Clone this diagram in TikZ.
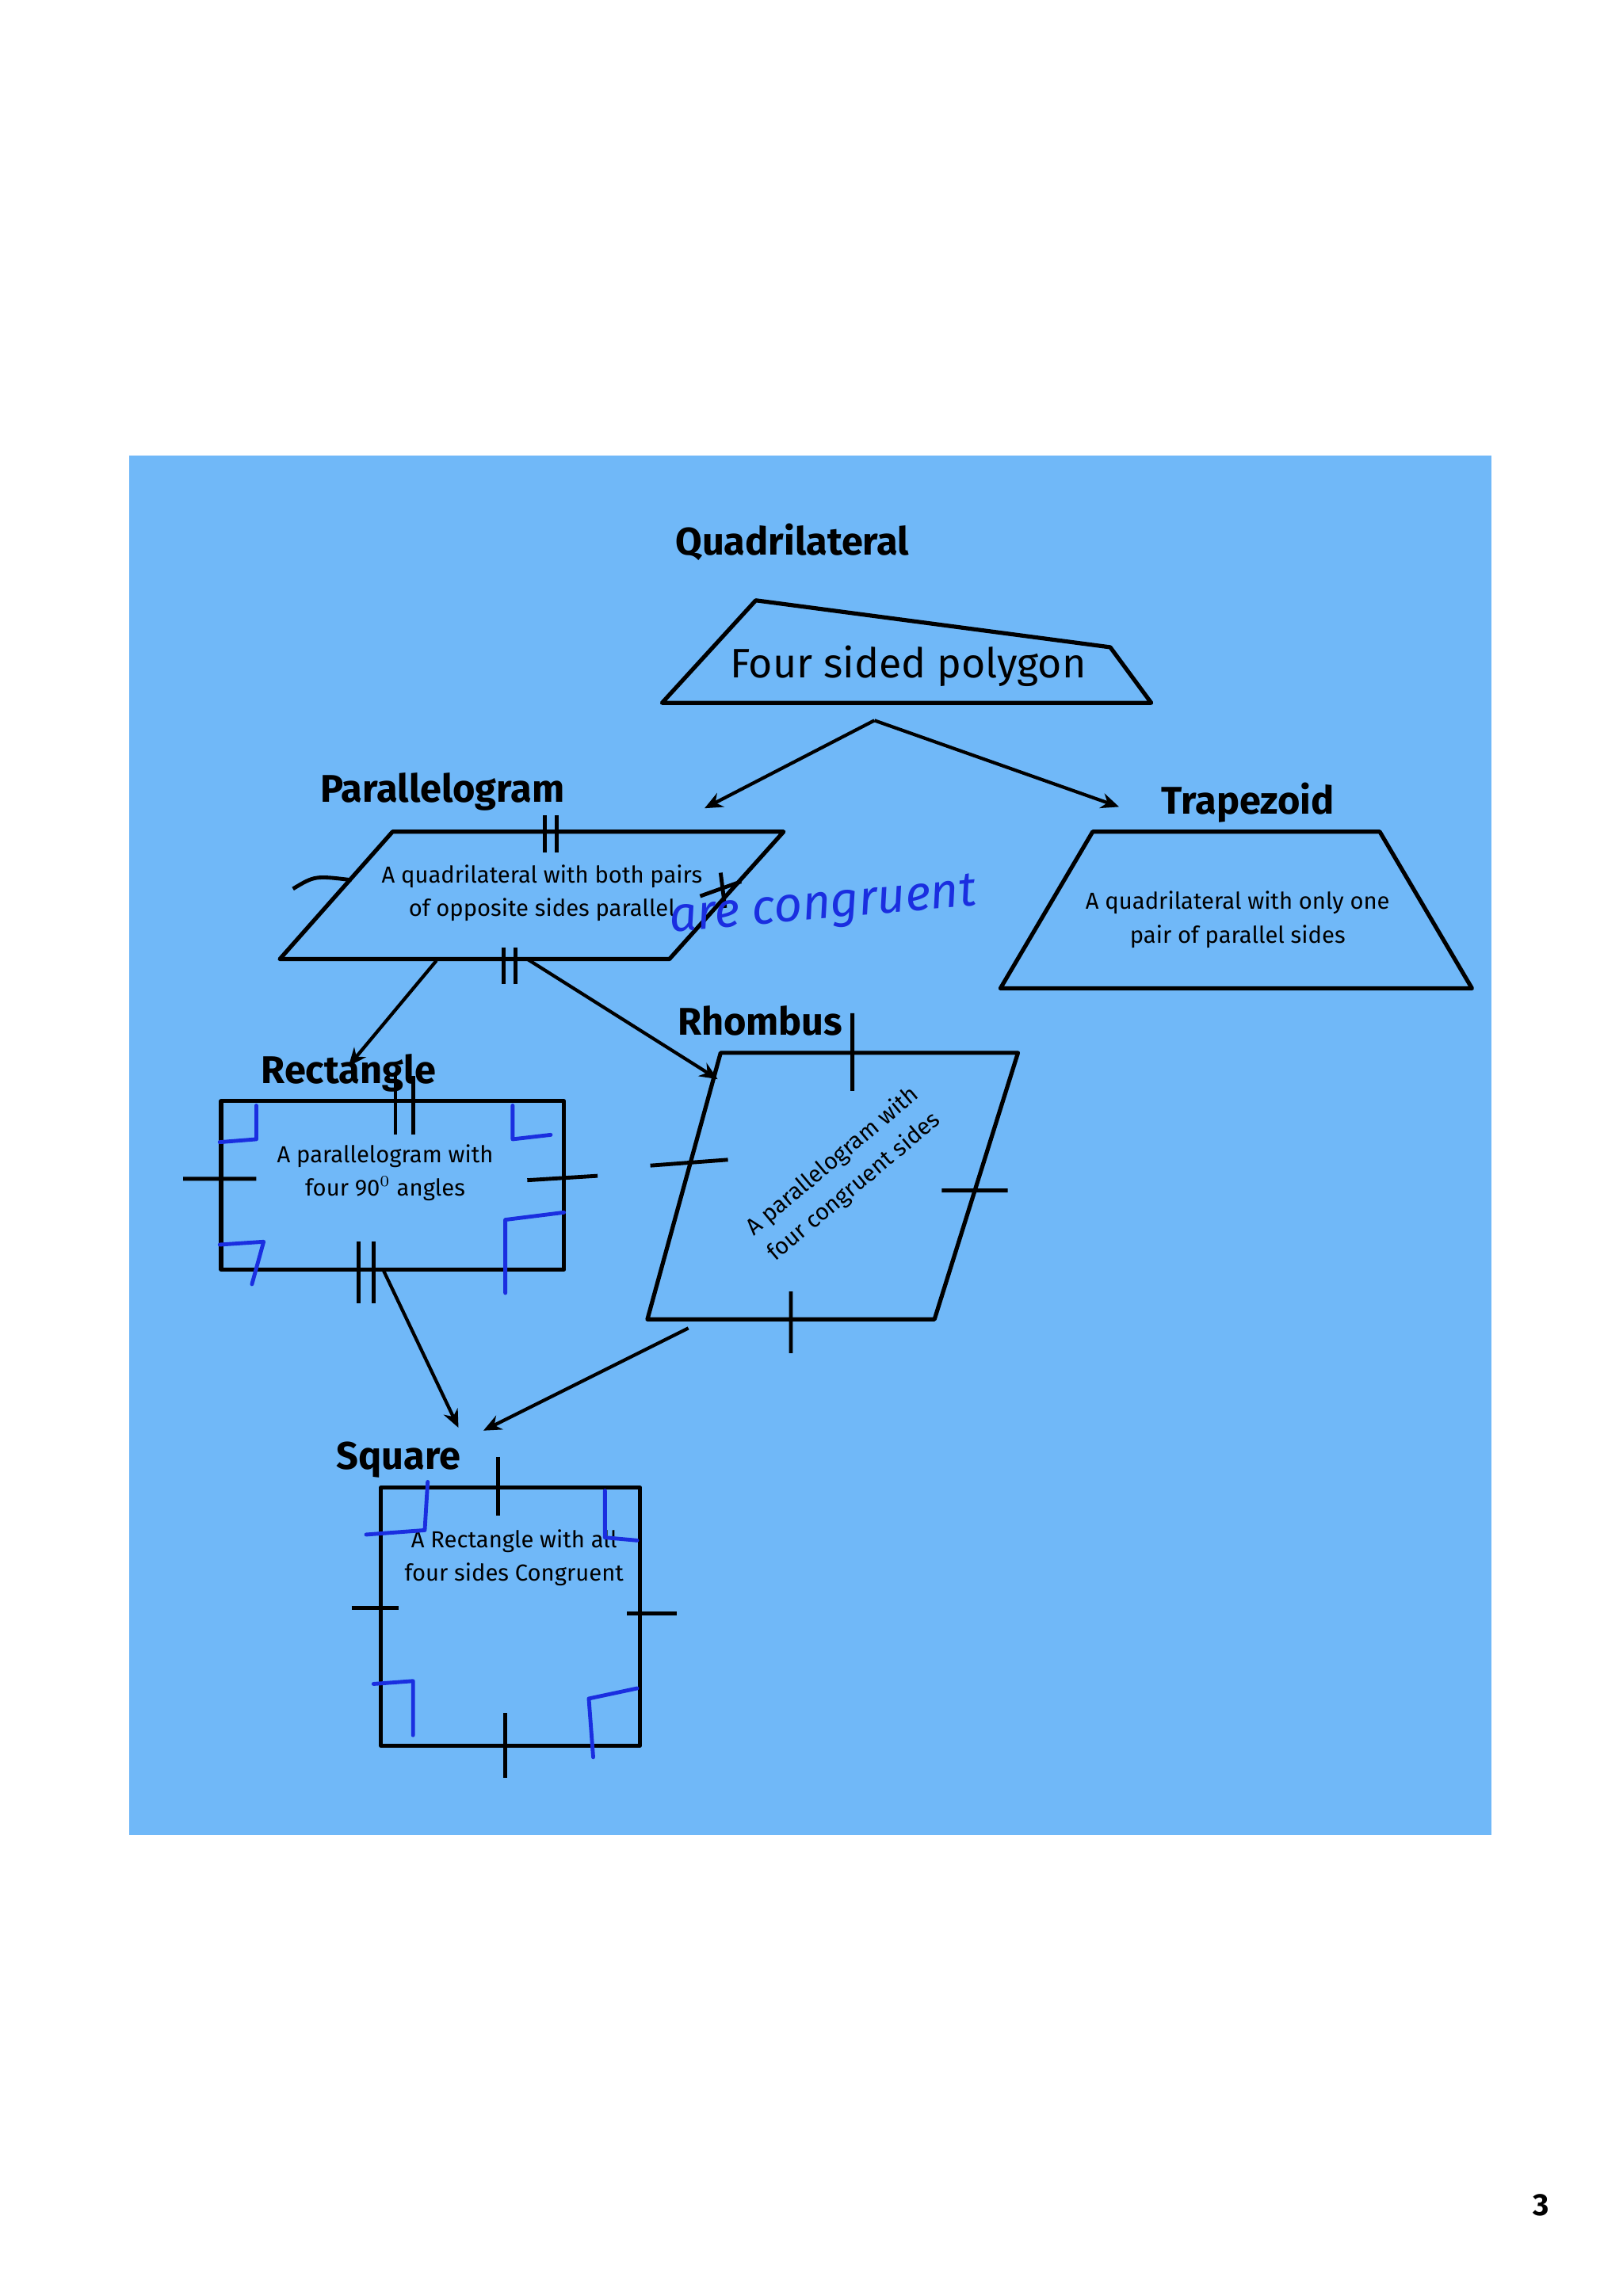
\documentclass[tikz,border=0pt]{standalone}
\usepackage{fontspec}
\setmainfont{Fira Sans}
\usetikzlibrary{arrows.meta}
\definecolor{bg}{HTML}{70B8F8}
\definecolor{pen}{HTML}{1A2EE0}
\begin{document}
\begin{tikzpicture}[x=0.02cm,y=-0.02cm,
  shp/.style={line width=1.6pt,line join=round},
  arr/.style={line width=1.3pt,-{Stealth[length=7pt,width=6pt]}},
  tick/.style={line width=1.5pt},
  bl/.style={pen,line width=1.5pt,line join=round,line cap=round},
  ttl/.style={font=\fontsize{15}{18}\selectfont\bfseries},
  txt/.style={font=\fontsize{9}{13}\selectfont,align=center}]
\useasboundingbox (0,0) rectangle (1108,1568);
\fill[white] (0,0) rectangle (1108,1568);
\fill[bg] (88,311) rectangle (1018,1253);
% Quadrilateral
\node[ttl] (tq) at (541,370) {Quadrilateral};
\draw[shp] (452,480) -- (516,410) -- (758,442) -- (786,480) -- cycle;
\node[font=\fontsize{16}{19}\selectfont] (q) at (620,455) {Four sided polygon};
\coordinate (qa) at (597,492);
\coordinate (pa) at (481,552);
\coordinate (ta) at (764,551);
\draw[arr] (qa) -- (pa);
\draw[arr] (qa) -- (ta);
% Parallelogram
\node[ttl] (tp) at (302,541) {Parallelogram};
\draw[shp] (191,655) -- (268,568) -- (535,568) -- (457,655) -- cycle;
\node[txt] (p) at (370,610) {A quadrilateral with both pairs\\of opposite sides parallel};
\draw[tick] (372,557) -- (372,582) (380,557) -- (380,582);
\draw[tick] (344,647) -- (344,672) (352,647) -- (352,672);
\draw[tick] (200,607) .. controls (215,598) .. (240,601);
\draw[tick] (478,612) -- (506,602) (492,596) -- (495,620);
\node[pen,font=\fontsize{19}{22}\selectfont\itshape,rotate=5] (ac) at (562,620) {are congruent};
% Trapezoid
\node[ttl] (tt) at (852,548) {Trapezoid};
\draw[shp] (683,675) -- (746,568) -- (942,568) -- (1005,675) -- cycle;
\node[txt] (t) at (845,628) {A quadrilateral with only one\\pair of parallel sides};
% arrows from parallelogram
\coordinate (p1) at (298,656); \coordinate (r1) at (238,728);
\coordinate (p2) at (360,655); \coordinate (h1) at (490,737);
\draw[arr] (p1) -- (r1);
\draw[arr] (p2) -- (h1);
% Rhombus
\node[ttl] (th) at (519,697) {Rhombus};
\draw[shp] (442,901) -- (492,719) -- (695,719) -- (638,901) -- cycle;
\node[txt,rotate=40] (h) at (576,802) {A parallelogram with\\four congruent sides};
\draw[tick] (582,692) -- (582,745) (444,796) -- (497,792) (643,813) -- (688,813) (540,882) -- (540,924);
% Rectangle
\node[ttl] (tr) at (238,733) {Rectangle};
\draw[shp] (151,752) rectangle (385,867);
\node[txt] (r) at (263,801) {A parallelogram with\\four 90$^0$ angles};
\draw[tick] (270,735) -- (270,775) (282,735) -- (282,775);
\draw[tick] (245,848) -- (245,890) (255,848) -- (255,890);
\draw[tick] (125,805) -- (175,805) (360,806) -- (408,803);
\draw[bl] (150,780) -- (175,778) -- (175,755);
\draw[bl] (350,755) -- (350,778) -- (376,775);
\draw[bl] (150,850) -- (180,848) -- (172,877);
\draw[bl] (345,883) -- (345,833) -- (385,828);
% arrows to square
\coordinate (r2) at (262,868); \coordinate (s1) at (313,975);
\coordinate (h2) at (470,907); \coordinate (s2) at (330,977);
\draw[arr] (r2) -- (s1);
\draw[arr] (h2) -- (s2);
% Square
\node[ttl] (ts) at (272,997) {Square};
\draw[shp] (260,1016) rectangle (437,1192);
\node[txt] (s) at (351,1064) {A Rectangle with all\\four sides Congruent};
\draw[tick] (340,995) -- (340,1035) (240,1098) -- (272,1098) (428,1102) -- (462,1102) (345,1170) -- (345,1214);
\draw[bl] (250,1048) -- (290,1045) -- (292,1012);
\draw[bl] (413,1018) -- (413,1050) -- (435,1052);
\draw[bl] (255,1150) -- (282,1148) -- (282,1185);
\draw[bl] (405,1200) -- (402,1160) -- (435,1153);
% page number
\node[font=\fontsize{12}{14}\selectfont\bfseries] (pg) at (1052,1506) {3};
\end{tikzpicture}
\end{document}
